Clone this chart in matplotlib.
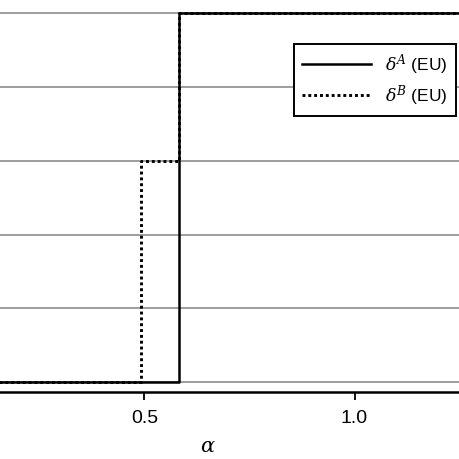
"""Step plot of two decision rules delta^A / delta^B (EU) against alpha."""
import matplotlib
matplotlib.use("Agg")
import matplotlib.pyplot as plt

plt.rcParams["font.family"] = ["Liberation Sans", "DejaVu Sans"]
plt.rcParams["mathtext.fontset"] = "dejavuserif"

# step breakpoints (alpha) and levels
alpha_a = [0.0, 0.583, 1.3]
delta_a = [0.0, 1.0, 1.0]
alpha_b = [0.0, 0.492, 0.583, 1.3]
delta_b = [0.0, 0.6, 1.0, 1.0]
x_ticks = [0.0, 0.5, 1.0]
x_labels = ["0.0", "0.5", "1.0"]
y_ticks = [0.0, 0.2, 0.4, 0.6, 0.8, 1.0]
y_labels = ["0.0", "0.2", "0.4", "0.6", "0.8", "1.0"]

fig = plt.figure(figsize=(4.59, 4.59), dpi=100)
ax = fig.add_axes([-0.143, 0.146, 1.19, 0.865])

ax.step(alpha_a, delta_a, where="post", color="black", lw=1.8,
        label=r"$\delta^A$ (EU)")
ax.step(alpha_b, delta_b, where="post", color="black", lw=2.1,
        linestyle=(0, (1, 1)), label=r"$\delta^B$ (EU)")

ax.set_xlim(0.0, 1.3)
ax.set_ylim(-0.027, 1.05)
ax.set_xticks(x_ticks)
ax.set_xticklabels(x_labels)
ax.set_yticks(y_ticks)
ax.set_yticklabels(y_labels)
ax.yaxis.grid(True, color="#959595", lw=1.3)
ax.set_axisbelow(True)
for side in ("top", "right", "left"):
    ax.spines[side].set_visible(False)
ax.spines["bottom"].set_linewidth(1.8)
ax.tick_params(axis="x", direction="out", length=6, width=1.3, labelsize=14, pad=7)
ax.tick_params(axis="y", length=0, labelsize=14)
ax.set_xlabel(r"$\alpha$", fontsize=15, labelpad=7)

leg = fig.legend(loc="upper left", bbox_to_anchor=(0.6405, 0.904), borderaxespad=0,
                 fontsize=12.5, handlelength=4.0, frameon=True, fancybox=False,
                 borderpad=0.45, labelspacing=0.35, handletextpad=0.8)
leg.get_frame().set_edgecolor("black")
leg.get_frame().set_linewidth(1.4)
leg.get_frame().set_alpha(1)

fig.savefig("out.png", dpi=100)
plt.close(fig)
